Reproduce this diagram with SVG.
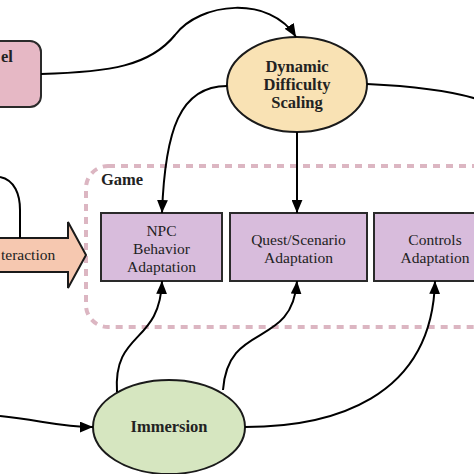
<svg xmlns="http://www.w3.org/2000/svg" width="474" height="474" viewBox="0 0 474 474">
<defs>
<marker id="ah" viewBox="0 0 12 10" refX="12" refY="5" markerWidth="13" markerHeight="11" markerUnits="userSpaceOnUse" orient="auto">
<path d="M0,0 L12,5 L0,10 Z" fill="#000"/>
</marker>
<style>
.t{font-family:"Liberation Serif","Times New Roman",serif;font-size:15.5px;fill:#222;text-anchor:middle}
.b{font-family:"Liberation Serif","Times New Roman",serif;font-size:16.5px;font-weight:bold;fill:#222;text-anchor:middle}
.box{fill:#d8bcdc;stroke:#2a2a2a;stroke-width:2}
.c{fill:none;stroke:#000;stroke-width:2}
</style>
</defs>
<rect width="474" height="474" fill="#fff"/>
<g id="game">
<rect x="86" y="166" width="420" height="161" rx="22" fill="none" stroke="#dcb6c2" stroke-width="4" stroke-dasharray="7,6"/>
<text class="b" x="122" y="185">Game</text>
</g>
<g id="model">
<rect x="-40" y="41" width="81" height="66" rx="11" fill="#e6b8c5" stroke="#2a2a2a" stroke-width="2"/>
<text class="b" x="1" y="62" style="text-anchor:start">el</text>
</g>
<g id="dds">
<ellipse cx="297" cy="84.5" rx="70" ry="47.5" fill="#f9e2b4" stroke="#1a1a1a" stroke-width="2"/>
<text class="b" x="297" y="72">Dynamic</text>
<text class="b" x="297" y="90">Difficulty</text>
<text class="b" x="297" y="108">Scaling</text>
</g>
<g id="interaction">
<path d="M-20,238 L68,238 L68,222 L86,255 L68,288 L68,272 L-20,272 Z" fill="#f6c8b0" stroke="#1a1a1a" stroke-width="2"/>
<text class="t" x="1" y="260" style="text-anchor:start">teraction</text>
</g>
<g id="npc">
<rect class="box" x="101" y="213" width="121" height="68"/>
<text class="t" x="161.5" y="236">NPC</text>
<text class="t" x="161.5" y="254">Behavior</text>
<text class="t" x="161.5" y="272">Adaptation</text>
</g>
<g id="quest">
<rect class="box" x="230" y="213" width="137" height="68"/>
<text class="t" x="298.5" y="245">Quest/Scenario</text>
<text class="t" x="298.5" y="263">Adaptation</text>
</g>
<g id="controls">
<rect class="box" x="374" y="213" width="124" height="68"/>
<text class="t" x="435" y="245">Controls</text>
<text class="t" x="435" y="263">Adaptation</text>
</g>
<g id="immersion">
<ellipse cx="169" cy="427" rx="76" ry="47" fill="#d6e6c0" stroke="#1a1a1a" stroke-width="2"/>
<text class="b" x="169" y="432">Immersion</text>
</g>
<g id="connectors">
<path class="c" d="M41,74 C110,72 150,66 175,35 C200,2 270,-5 296,37" marker-end="url(#ah)"/>
<path class="c" d="M367,84 C410,86 450,90 480,100"/>
<path class="c" d="M227,86 C180,86 165,130 162,213" marker-end="url(#ah)"/>
<path class="c" d="M297,132 L297,213" marker-end="url(#ah)"/>
<path class="c" d="M0,177 C15,180 20,195 20,210 L20,238"/>
<path class="c" d="M0,416 C40,420 60,427 93,427" marker-end="url(#ah)"/>
<path class="c" d="M117,392 C113,330 160,345 162,281" marker-end="url(#ah)"/>
<path class="c" d="M223,390 C228,320 292,350 297,281" marker-end="url(#ah)"/>
<path class="c" d="M245,427 C330,427 432,400 435,281" marker-end="url(#ah)"/>
</g>
</svg>
